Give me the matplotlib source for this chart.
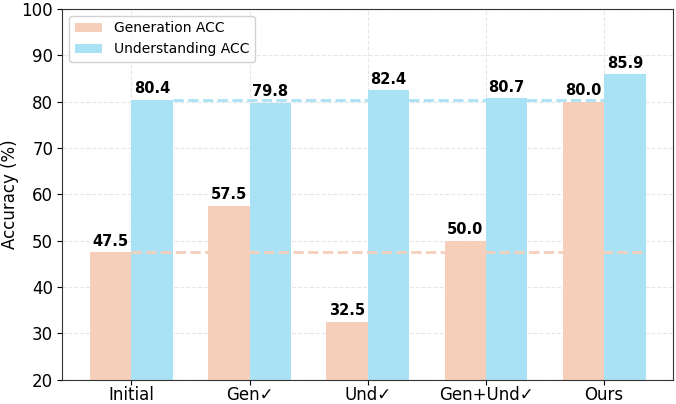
import numpy as np
import matplotlib.pyplot as plt

# data
methods = ['Initial', 'Gen\u2713', 'Und\u2713', 'Gen+Und\u2713', 'Ours']
gen_acc = [47.5, 57.5, 32.5, 50.0, 80.0]
und_acc = [80.4, 79.8, 82.4, 80.7, 85.9]

gen_color = '#F5CFBA'
und_color = '#AAE2F5'

fig, ax = plt.subplots(figsize=(6.76, 4.04), dpi=100)

x = np.arange(len(methods))
w = 0.35
b1 = ax.bar(x - w/2, gen_acc, w, color=gen_color, label='Generation ACC', zorder=2)
b2 = ax.bar(x + w/2, und_acc, w, color=und_color, label='Understanding ACC', zorder=2)

# baseline reference lines from the initial model
ax.hlines(gen_acc[0], x[0], x[-1] + w, colors=gen_color, linestyles='--', linewidth=2, zorder=3)
ax.hlines(und_acc[0], x[0] + w, x[-1] + w, colors=und_color, linestyles='--', linewidth=2, zorder=3)

for bars in (b1, b2):
    for b in bars:
        h = b.get_height()
        ax.text(b.get_x() + b.get_width()/2, h + 0.8, f'{h:.1f}',
                ha='center', va='bottom', fontsize=10.5, fontweight='bold')

ax.set_ylim(20, 100)
ax.set_xticks(x)
ax.set_xticklabels(methods, fontsize=12)
ax.tick_params(axis='y', labelsize=12, length=3.5, pad=3)
ax.tick_params(axis='x', length=3.5, pad=1)
ax.set_ylabel('Accuracy (%)', fontsize=12, labelpad=2)
ax.grid(True, linestyle='--', color='#dddddd', alpha=0.7, linewidth=0.8, zorder=0)
ax.set_axisbelow(True)
for s in ax.spines.values():
    s.set_color('#333333')
ax.legend(loc='upper left', fontsize=10, framealpha=0.9)

plt.subplots_adjust(left=0.092, right=0.996, top=0.978, bottom=0.06)
plt.savefig('out.png', dpi=100)
